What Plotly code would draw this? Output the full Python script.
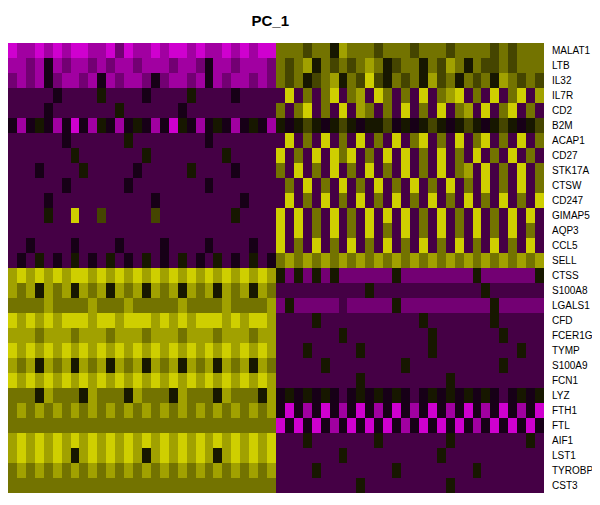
import numpy as np
import plotly.graph_objects as go

# genes top to bottom
genes = ["MALAT1", "LTB", "IL32", "IL7R", "CD2", "B2M", "ACAP1", "CD27", "STK17A", "CTSW",
         "CD247", "GIMAP5", "AQP3", "CCL5", "SELL", "CTSS", "S100A8", "LGALS1", "CFD", "FCER1G",
         "TYMP", "S100A9", "FCN1", "LYZ", "FTH1", "FTL", "AIF1", "LST1", "TYROBP", "CST3"]

# scaled expression per cell block, coded 0 (low) .. 9 (high); left 30 blocks | right 30 blocks
codes = [
    "011010100110201101001011010100" + "777677587776777677767777676777",
    "112141211212112111211241121112" + "767857676787567757687576676777",
    "212142112141211242112141211212" + "767567857696576758675767587676",
    "333334333353333433335333343333" + "393737937839737393789373937938",
    "333343333333533333343333333333" + "737937393873739373937839379373",
    "414541404154145414054145414541" + "545654565455645456545654565456",
    "333333433333353333333343333333" + "393739373937393793739379373937",
    "333333353333333533333333533333" + "937393979373939373937393739373",
    "333433335333334333335333343333" + "739373937393739373937839373937",
    "333333433333343333333343333333" + "373937393739373937393739373937",
    "333343333333333343333333334333" + "393739373937393739373937393739",
    "333353393363333363333333353333" + "939373937393939373937393739393",
    "333333333333333333333333333333" + "939373937393739373937393739373",
    "334333343333433334333343333433" + "937393739373937393739373937393",
    "343534353435343534353435343534" + "787878787878787878787878787878",
    "898989899898989898989898989898" + "525252522222252222222252222225",
    "878587858785878587858785878587" + "333333333353333333333335333333",
    "777787777877787777787777877778" + "252222232222252222222222522222",
    "989898999899899989898999898998" + "333353333333333353333333533333",
    "888788878887888788878887888788" + "333333353333333335333333353333",
    "989898989898989898989898989898" + "333533333533333335333333333533",
    "878587858785878587858785878587" + "333335333333335333333333353333",
    "989898989898989898989898989898" + "333333333533333333353333333333",
    "777587775877758777587775877758" + "454545434545454345454545434545",
    "787878787878787878787878787878" + "404140414041404140414041404140",
    "777777777777777777777777777777" + "040404140404041404040414040404",
    "898989898989898989898989898989" + "333533333335333333353333333353",
    "898989858989898589898985898989" + "333333353333333333533333333333",
    "787878787878787878787878787878" + "333353333333353333333353333333",
    "777777777777777777777777777777" + "333333333533333333353333333333",
]

z = np.array([[(int(c) - 4.5) * 0.45 for c in row] for row in codes])

fig = go.Figure(go.Heatmap(
    z=z,
    y=genes,
    colorscale=[[0, "#ff00ff"], [0.5, "#000000"], [1, "#ffff00"]],
    zmin=-2.5, zmax=2.5,
    showscale=False,
))

# page body adds ~8px offset, so the figure is drawn slightly smaller
fig.update_layout(
    width=592, height=497,
    margin=dict(l=0, r=56, t=35, b=12),
    paper_bgcolor="white", plot_bgcolor="white",
    title=dict(text="<b>PC_1</b>", x=0.443, y=0.975, xanchor="center", yanchor="middle",
               font=dict(family="Liberation Sans", size=15, color="black")),
    font=dict(family="Liberation Sans", size=10, color="black"),
)
fig.update_xaxes(visible=False, automargin=False)
fig.update_yaxes(autorange="reversed", side="right", showgrid=False, ticks="",
                 automargin=False, ticklabelstandoff=7, tickfont=dict(size=10))

fig.write_html("out.html")
